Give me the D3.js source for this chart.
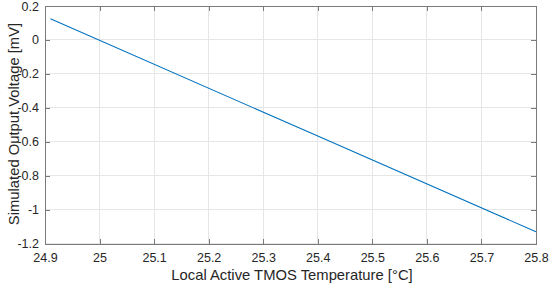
<!DOCTYPE html>
<html><head><meta charset="utf-8">
<script src="https://cdn.jsdelivr.net/npm/d3@7"></script>
<style>body{margin:0;background:#fff}svg{display:block}</style>
</head><body>
<script>
const temps = [24.91, 25.4, 25.8];
const volts = [0.125, -0.567, -1.131];
const xTicks = [24.9, 25, 25.1, 25.2, 25.3, 25.4, 25.5, 25.6, 25.7, 25.8];
const yTicks = [-1.2, -1, -0.8, -0.6, -0.4, -0.2, 0, 0.2];
const xLabel = "Local Active TMOS Temperature [°C]";
const yLabel = "Simulated Output Voltage [mV]";

const W = 550, H = 286;
const m = {l: 45, r: 14, t: 6, b: 42.5};
const svg = d3.select("body").append("svg").attr("width", W).attr("height", H);
const x = d3.scaleLinear().domain([24.9, 25.8]).range([m.l, W - m.r]);
const y = d3.scaleLinear().domain([-1.2, 0.2]).range([H - m.b, m.t]);
const font = "Liberation Sans, Arial, Helvetica, sans-serif";
const fmt = d => String(+d.toFixed(1));

// grid
const g = svg.append("g");
g.selectAll(".gx").data(xTicks).join("line")
  .attr("x1", d => x(d)).attr("x2", d => x(d)).attr("y1", m.t).attr("y2", H - m.b)
  .attr("stroke", "#e6e6e6").attr("stroke-width", 1).attr("shape-rendering", "crispEdges");
g.selectAll(".gy").data(yTicks).join("line")
  .attr("y1", d => y(d)).attr("y2", d => y(d)).attr("x1", m.l).attr("x2", W - m.r)
  .attr("stroke", "#e6e6e6").attr("stroke-width", 1).attr("shape-rendering", "crispEdges");

// line
svg.append("path").datum(temps.map((t, i) => [t, volts[i]]))
  .attr("fill", "none").attr("stroke", "#0072BD").attr("stroke-width", 1.1)
  .attr("d", d3.line().x(d => x(d[0])).y(d => y(d[1])));

// axes (MATLAB style: ticks inside, box)
const axCol = "#7a7a7a";
const axB = svg.append("g").attr("transform", `translate(0,${H - m.b})`)
  .call(d3.axisBottom(x).tickValues(xTicks).tickFormat(fmt).tickSizeInner(-5).tickSizeOuter(0).tickPadding(10));
const axL = svg.append("g").attr("transform", `translate(${m.l},0)`)
  .call(d3.axisLeft(y).tickValues(yTicks).tickFormat(fmt).tickSizeInner(-5).tickSizeOuter(0).tickPadding(6));
const axT = svg.append("g").attr("transform", `translate(0,${m.t})`)
  .call(d3.axisTop(x).tickValues(xTicks).tickFormat("").tickSizeInner(-5).tickSizeOuter(0));
const axR = svg.append("g").attr("transform", `translate(${W - m.r},0)`)
  .call(d3.axisRight(y).tickValues(yTicks).tickFormat("").tickSizeInner(-5).tickSizeOuter(0));
[axB, axL, axT, axR].forEach(a => {
  a.selectAll("path, line").attr("stroke", axCol).attr("shape-rendering", "crispEdges");
  a.selectAll("text").attr("fill", "#262626").style("font-family", font).style("font-size", "12.5px");
});

svg.append("text").attr("x", 292).attr("y", 280)
  .attr("text-anchor", "middle").attr("fill", "#262626")
  .style("font-family", font).style("font-size", "14.8px").text(xLabel);
svg.append("text").attr("transform", `translate(18.5,124) rotate(-90)`)
  .attr("text-anchor", "middle").attr("fill", "#262626")
  .style("font-family", font).style("font-size", "14.8px").text(yLabel);
</script>
</body></html>
